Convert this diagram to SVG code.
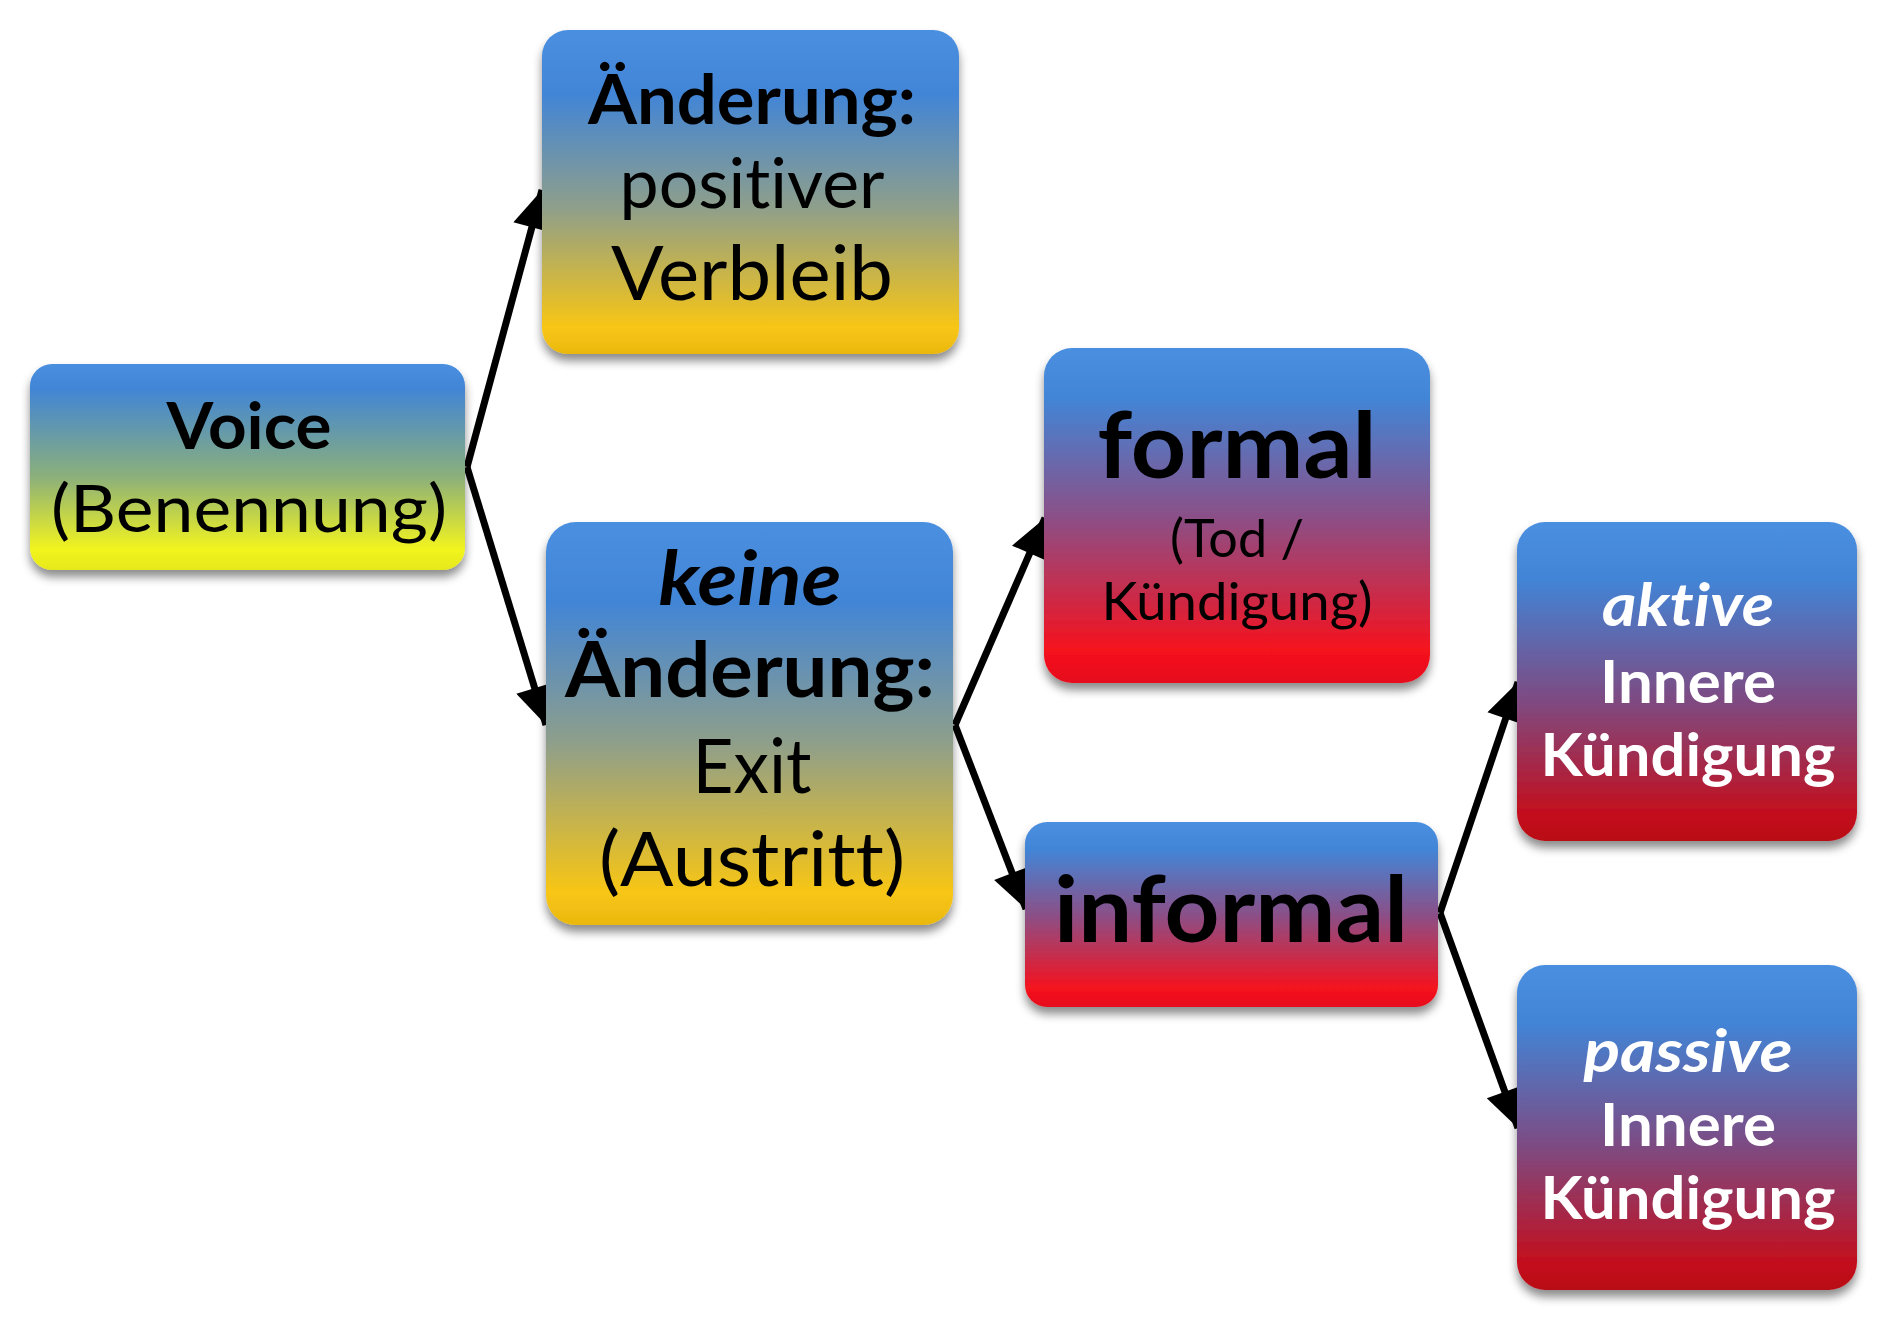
<svg xmlns="http://www.w3.org/2000/svg" width="1903" height="1331" viewBox="0 0 1903 1331">
<defs>
<style>
text{font-family:Lato,"Open Sans","Liberation Sans",sans-serif;text-anchor:middle;fill:#000;font-variant-ligatures:none;font-feature-settings:"liga" 0,"clig" 0}
.b{font-weight:700}
.bi{font-weight:700;font-style:italic}
.w{fill:#fff}
.box{filter:url(#sh)}
.conn{stroke:#000;stroke-width:7;fill:none;marker-end:url(#ah)}
</style>
<filter id="sh" x="-10%" y="-10%" width="120%" height="130%">
<feDropShadow dx="0" dy="7" stdDeviation="5" flood-color="#000" flood-opacity="0.45"/>
</filter>
<linearGradient id="gY" x1="0" y1="0" x2="0" y2="1">
<stop offset="0" stop-color="#4a8fe0"/><stop offset="0.12" stop-color="#4185d6"/><stop offset="0.55" stop-color="#8cb07a"/><stop offset="0.9" stop-color="#f2f41e"/><stop offset="1" stop-color="#e6e81a"/>
</linearGradient>
<linearGradient id="gO" x1="0" y1="0" x2="0" y2="1">
<stop offset="0" stop-color="#4a8fe0"/><stop offset="0.2" stop-color="#4285d6"/><stop offset="0.55" stop-color="#8f9f8a"/><stop offset="0.92" stop-color="#f8c614"/><stop offset="1" stop-color="#eab810"/>
</linearGradient>
<linearGradient id="gR" x1="0" y1="0" x2="0" y2="1">
<stop offset="0" stop-color="#4a8fe0"/><stop offset="0.15" stop-color="#4285d6"/><stop offset="0.5" stop-color="#8a5088"/><stop offset="0.9" stop-color="#f5121e"/><stop offset="1" stop-color="#e60e1a"/>
</linearGradient>
<linearGradient id="gD" x1="0" y1="0" x2="0" y2="1">
<stop offset="0" stop-color="#4a8fe0"/><stop offset="0.18" stop-color="#4284d6"/><stop offset="0.55" stop-color="#7c4c84"/><stop offset="0.92" stop-color="#c40e1c"/><stop offset="1" stop-color="#b80a16"/>
</linearGradient>
<marker id="ah" viewBox="0 0 10 10" refX="10" refY="5" markerWidth="6" markerHeight="5.5" orient="auto" markerUnits="strokeWidth">
<path d="M0,0 L10,5 L0,10 Z" fill="#000"/>
</marker>
</defs>

<g id="connectors">
<line class="conn" x1="467" y1="467" x2="542" y2="190"/>
<line class="conn" x1="467" y1="467" x2="546" y2="725"/>
<line class="conn" x1="955" y1="725" x2="1045" y2="518"/>
<line class="conn" x1="955" y1="725" x2="1026" y2="909"/>
<line class="conn" x1="1440" y1="913" x2="1518" y2="682"/>
<line class="conn" x1="1440" y1="913" x2="1518" y2="1128"/>
</g>

<g id="node-voice">
<rect class="box" x="30" y="364" width="435" height="206" rx="22" fill="url(#gY)"/>
<text class="b" x="249" y="449" font-size="65" textLength="165" lengthAdjust="spacingAndGlyphs">Voice</text>
<text x="249" y="532" font-size="65" textLength="396" lengthAdjust="spacingAndGlyphs">(Benennung)</text>
</g>

<g id="node-aenderung">
<rect class="box" x="542" y="30" width="417" height="324" rx="26" fill="url(#gO)"/>
<text class="b" x="752" y="124" font-size="68" textLength="328" lengthAdjust="spacingAndGlyphs">Änderung:</text>
<text x="752" y="208" font-size="69" textLength="265" lengthAdjust="spacingAndGlyphs">positiver</text>
<text x="752" y="300" font-size="75" textLength="282" lengthAdjust="spacingAndGlyphs">Verbleib</text>
</g>

<g id="node-keine">
<rect class="box" x="546" y="522" width="407" height="403" rx="30" fill="url(#gO)"/>
<text class="bi" x="750" y="605" font-size="74" textLength="183" lengthAdjust="spacingAndGlyphs">keine</text>
<text class="b" x="750" y="697" font-size="76" textLength="370" lengthAdjust="spacingAndGlyphs">Änderung:</text>
<text x="752" y="793" font-size="75" textLength="119" lengthAdjust="spacingAndGlyphs">Exit</text>
<text x="752" y="886" font-size="75" textLength="306" lengthAdjust="spacingAndGlyphs">(Austritt)</text>
</g>

<g id="node-formal">
<rect class="box" x="1044" y="348" width="386" height="335" rx="28" fill="url(#gR)"/>
<text class="b" x="1237" y="478" font-size="92" textLength="279" lengthAdjust="spacingAndGlyphs">formal</text>
<text x="1237" y="557" font-size="52" textLength="134" lengthAdjust="spacingAndGlyphs">(Tod /</text>
<text x="1237" y="620" font-size="52" textLength="271" lengthAdjust="spacingAndGlyphs">Kündigung)</text>
</g>

<g id="node-informal">
<rect class="box" x="1025" y="822" width="413" height="185" rx="22" fill="url(#gR)"/>
<text class="b" x="1231" y="942" font-size="92" textLength="354" lengthAdjust="spacingAndGlyphs">informal</text>
</g>

<g id="node-aktive">
<rect class="box" x="1517" y="522" width="340" height="319" rx="28" fill="url(#gD)"/>
<text class="bi w" x="1688" y="626" font-size="60" textLength="172" lengthAdjust="spacingAndGlyphs">aktive</text>
<text class="b w" x="1688" y="703" font-size="60" textLength="176" lengthAdjust="spacingAndGlyphs">Innere</text>
<text class="b w" x="1688" y="776" font-size="60" textLength="295" lengthAdjust="spacingAndGlyphs">Kündigung</text>
</g>

<g id="node-passive">
<rect class="box" x="1517" y="965" width="340" height="325" rx="28" fill="url(#gD)"/>
<text class="bi w" x="1688" y="1072" font-size="60" textLength="209" lengthAdjust="spacingAndGlyphs">passive</text>
<text class="b w" x="1688" y="1146" font-size="60" textLength="176" lengthAdjust="spacingAndGlyphs">Innere</text>
<text class="b w" x="1688" y="1219" font-size="60" textLength="295" lengthAdjust="spacingAndGlyphs">Kündigung</text>
</g>
</svg>
